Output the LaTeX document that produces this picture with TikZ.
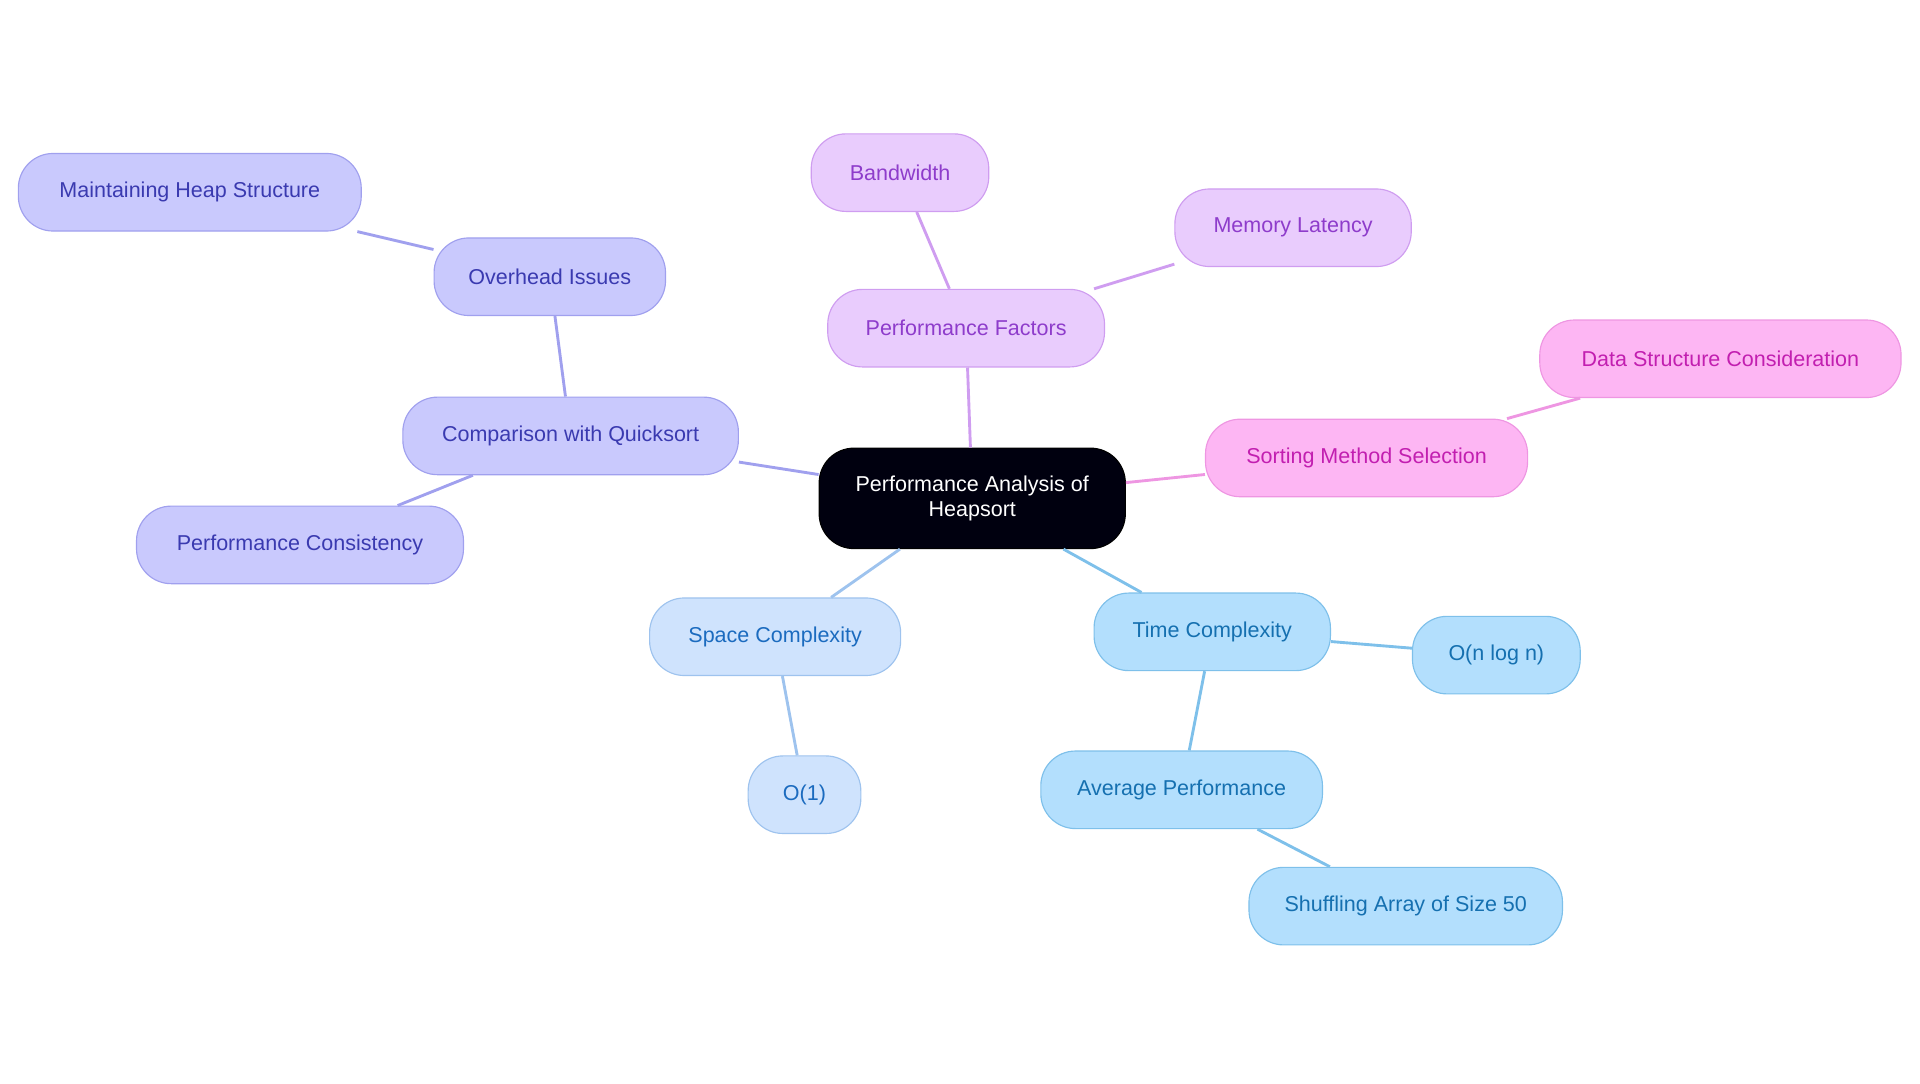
\documentclass[tikz,border=0pt]{standalone}
\usepackage{fontspec}
\setmainfont{Liberation Sans}
\begin{document}
\begin{tikzpicture}[x=0.03cm,y=-0.03cm,
 box/.style={draw,line width=0.8pt,rounded corners=0.85cm,minimum height=1.9cm,align=center,font=\fontsize{15}{18}\selectfont,inner sep=0pt},
 pur/.style={box,fill=purF,draw=purD,text=purT},
 pnk/.style={box,fill=pnkF,draw=pnkD,text=pnkT},
 lav/.style={box,fill=lavF,draw=lavD,text=lavT},
 lbl/.style={box,fill=lblF,draw=lblD,text=lblT},
 blu/.style={box,fill=bluF,draw=bluD,text=bluT},
 ln/.style={line width=2pt}]
\definecolor{purF}{HTML}{E9CCFD}\definecolor{purD}{HTML}{CF9DF0}\definecolor{purT}{HTML}{8E3CCB}
\definecolor{pnkF}{HTML}{FDB6F3}\definecolor{pnkD}{HTML}{EE96E2}\definecolor{pnkT}{HTML}{C21FB0}
\definecolor{lavF}{HTML}{C9C9FD}\definecolor{lavD}{HTML}{A0A0EE}\definecolor{lavT}{HTML}{3A3AB0}
\definecolor{lblF}{HTML}{CFE3FD}\definecolor{lblD}{HTML}{9EC3EE}\definecolor{lblT}{HTML}{1B6BBF}
\definecolor{bluF}{HTML}{B3DFFD}\definecolor{bluD}{HTML}{7EC0EA}\definecolor{bluT}{HTML}{1570B0}
\useasboundingbox (0,0) rectangle (1568,884.5);
\node[box,fill=black!90!blue!60!black,draw=black,text=white,minimum width=7.5cm,minimum height=2.46cm] (c) at (794,407) {Performance Analysis of\\Heapsort};
\node[pur,minimum width=6.78cm] (pf) at (789,268) {Performance Factors};
\node[pur,minimum width=4.35cm] (bw) at (735,141) {Bandwidth};
\node[pur,minimum width=5.79cm] (ml) at (1056,186) {Memory Latency};
\node[pnk,minimum width=7.89cm] (sm) at (1116,374) {Sorting Method Selection};
\node[pnk,minimum width=8.85cm] (ds) at (1405,293) {Data Structure Consideration};
\node[lav,minimum width=8.22cm] (cq) at (466,356) {Comparison with Quicksort};
\node[lav,minimum width=5.67cm] (oi) at (449,226) {Overhead Issues};
\node[lav,minimum width=8.4cm] (mh) at (155,157) {Maintaining Heap Structure};
\node[lav,minimum width=8.01cm] (pc) at (245,445) {Performance Consistency};
\node[lbl,minimum width=6.15cm] (sc) at (633,520) {Space Complexity};
\node[lbl,minimum width=2.76cm] (o1) at (657,649) {O(1)};
\node[blu,minimum width=5.79cm] (tc) at (990,516) {Time Complexity};
\node[blu,minimum width=4.11cm] (on) at (1222,535) {O(n log n)};
\node[blu,minimum width=6.9cm] (ap) at (965,645) {Average Performance};
\node[blu,minimum width=7.68cm] (sh) at (1148,740) {Shuffling Array of Size 50};
\begin{scope}[on background layer/.style={}]
\end{scope}
\draw[ln,purD] (c) -- (pf); \draw[ln,purD] (pf) -- (bw); \draw[ln,purD] (pf) -- (ml);
\draw[ln,pnkD] (c) -- (sm); \draw[ln,pnkD] (sm) -- (ds);
\draw[ln,lavD] (c) -- (cq); \draw[ln,lavD] (cq) -- (oi); \draw[ln,lavD] (oi) -- (mh); \draw[ln,lavD] (cq) -- (pc);
\draw[ln,lblD] (c) -- (sc); \draw[ln,lblD] (sc) -- (o1);
\draw[ln,bluD] (c) -- (tc); \draw[ln,bluD] (tc) -- (on); \draw[ln,bluD] (tc) -- (ap); \draw[ln,bluD] (ap) -- (sh);
\end{tikzpicture}
\end{document}
